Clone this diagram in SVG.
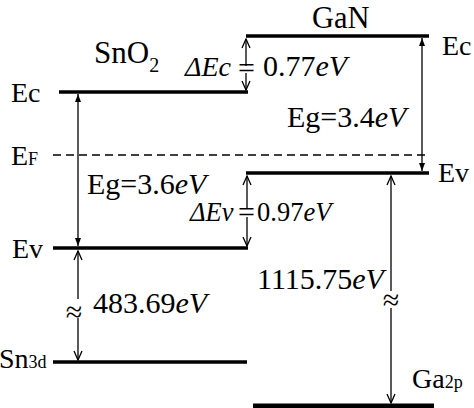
<svg xmlns="http://www.w3.org/2000/svg" width="474" height="408" viewBox="0 0 474 408">
<style>
.t{font-family:"Liberation Serif","Times New Roman",serif;font-size:28px;fill:#000}
.v{font-size:30px}
.i{font-style:italic}
.s{font-size:18px}
.lvl{stroke:#000;stroke-width:3.5;fill:none}
.dash{stroke:#000;stroke-width:1.5;stroke-dasharray:8 5;fill:none}
.ar{stroke:#000;stroke-width:1.3;fill:none}
.fa{marker-end:url(#tri)}
.oa{marker-end:url(#vee)}
</style>
<defs>
<marker id="tri" viewBox="0 0 8 6" refX="8" refY="3" markerWidth="8" markerHeight="6" markerUnits="userSpaceOnUse" orient="auto">
<path d="M0,0 L8,3 L0,6 z" fill="#000"/>
</marker>
<marker id="vee" viewBox="-1 -1 11 10" refX="9" refY="4" markerWidth="11" markerHeight="10" markerUnits="userSpaceOnUse" orient="auto">
<path d="M0,0 L9,4 L0,8" fill="none" stroke="#000" stroke-width="1.3"/>
</marker>
</defs>
<rect width="474" height="408" fill="#fff"/>

<g id="title-sno2"><text class="t" x="94" y="63" style="font-size:31px">SnO<tspan style="font-size:20px" dy="9">2</tspan></text></g>
<g id="title-gan"><text class="t" x="312" y="27.5" style="font-size:30.5px">GaN</text></g>

<g id="sno2-ec"><path class="lvl" d="M59,92 H248"/><text class="t" x="11" y="102">Ec</text></g>
<g id="gan-ec"><path class="lvl" d="M246,36 H429"/><text class="t" x="442" y="55">Ec</text></g>
<g id="fermi"><path class="dash" d="M53,155 H425"/><text class="t" x="11" y="165">E<tspan class="s">F</tspan></text></g>
<g id="sno2-ev"><path class="lvl" d="M53,248 H248"/><text class="t" x="12" y="258">Ev</text></g>
<g id="gan-ev"><path class="lvl" d="M246,173 H429"/><text class="t" x="438" y="182">Ev</text></g>
<g id="sn3d"><path class="lvl" d="M53,362 H247"/><text class="t" x="-1" y="368">Sn<tspan class="s">3d</tspan></text></g>
<g id="ga2p"><path class="lvl" style="stroke-width:5" d="M253,406 H434"/><text class="t" x="412" y="388">Ga<tspan class="s">2p</tspan></text></g>

<g id="connectors">
<line class="ar fa" x1="78" y1="170" x2="78" y2="94"/>
<line class="ar fa" x1="78" y1="170" x2="78" y2="246"/>
<line class="ar fa" x1="422" y1="105" x2="422" y2="38"/>
<line class="ar fa" x1="422" y1="105" x2="422" y2="171"/>
<line class="ar oa" x1="246" y1="66" x2="246" y2="39"/>
<line class="ar oa" x1="246" y1="73" x2="246" y2="90"/>
<line class="ar oa" x1="247" y1="209" x2="247" y2="176"/>
<line class="ar oa" x1="247" y1="217" x2="247" y2="246"/>
<line class="ar oa" x1="78" y1="299" x2="78" y2="251"/>
<line class="ar oa" x1="78" y1="318" x2="78" y2="360"/>
<line class="ar oa" x1="391" y1="291" x2="391" y2="176"/>
<line class="ar oa" x1="391" y1="308" x2="391" y2="403"/>
</g>

<g id="labels">
<text class="t v" x="87" y="194">Eg=3.6<tspan class="i">eV</tspan></text>
<text class="t v" x="287" y="127">Eg=3.4<tspan class="i">eV</tspan></text>
<text class="t v" y="76"><tspan class="i" x="185" style="font-size:28px">ΔEc</tspan><tspan x="238" dy="2">=</tspan><tspan x="263" dy="-2">0.77</tspan><tspan class="i">eV</tspan></text>
<text class="t" y="221" style="font-size:26.5px"><tspan class="i" x="190">ΔEv</tspan><tspan x="238" dy="1" style="font-size:30px">=</tspan><tspan x="257" dy="-1">0.97</tspan><tspan class="i">eV</tspan></text>
<text class="t v" x="93" y="313">483.69<tspan class="i">eV</tspan></text>
<text class="t v" x="74" y="322" text-anchor="middle">≈</text>
<text class="t v" x="257" y="289">1115.75<tspan class="i">eV</tspan></text>
<text class="t v" x="391" y="310" text-anchor="middle">≈</text>
</g>
</svg>
